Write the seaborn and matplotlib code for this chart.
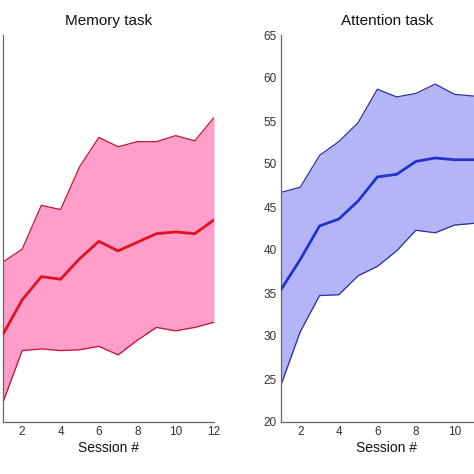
import matplotlib
matplotlib.use("Agg")
import matplotlib.pyplot as plt
import seaborn as sns
import pandas as pd
import numpy as np

sessions = [1, 2, 3, 4, 5, 6, 7, 8, 9, 10, 11, 12]

memory_mean = [30.2, 34.2, 36.9, 36.6, 39.0, 41.0, 39.9, 40.9, 41.9, 42.1, 41.9, 43.5]
memory_upper = [38.6, 40.1, 45.2, 44.7, 49.7, 53.1, 52.0, 52.6, 52.6, 53.3, 52.7, 55.4]
memory_lower = [22.3, 28.3, 28.5, 28.3, 28.4, 28.8, 27.8, 29.5, 31.0, 30.6, 31.0, 31.6]

attention_mean = [35.4, 38.9, 42.8, 43.6, 45.7, 48.5, 48.8, 50.3, 50.7, 50.5, 50.5, 50.5]
attention_upper = [46.7, 47.3, 51.0, 52.6, 54.8, 58.7, 57.8, 58.2, 59.3, 58.1, 57.9, 57.8]
attention_lower = [24.3, 30.5, 34.7, 34.8, 37.0, 38.1, 39.9, 42.3, 42.0, 42.9, 43.1, 43.2]

titles = ["Memory task", "Attention task"]
yticks = [20, 25, 30, 35, 40, 45, 50, 55, 60, 65]
xticks = [2, 4, 6, 8, 10, 12]
xticklabels_memory = ["2", "4", "6", "8", "10", "12"]
xticklabels_attention = ["2", "4", "6", "8", "10", ""]  # "12" lies beyond the cropped edge

sns.set_theme(style="white")
plt.rcParams['font.family'] = ['Liberation Sans', 'DejaVu Sans']

W = 474
fig = plt.figure(figsize=(4.74, 4.74), dpi=100)
ax1 = fig.add_axes([3 / W, 52 / W, 211 / W, 387 / W])
ax2 = fig.add_axes([281 / W, 52 / W, 212 / W, 387 / W])

specs = [
    (ax1, memory_mean, memory_upper, memory_lower, "#FF9ECB", "#C8102E", "#E3101E", False, xticklabels_memory),
    (ax2, attention_mean, attention_upper, attention_lower, "#B3B5F7", "#2B309E", "#2233CC", True, xticklabels_attention),
]

for (ax, mean, up, lo, fillc, edgec, meanc, showy, xtl), title in zip(specs, titles):
    df = pd.DataFrame({"session": sessions, "mean": mean, "upper": up, "lower": lo})
    ax.fill_between(df["session"], df["lower"], df["upper"], color=fillc, linewidth=0, zorder=1)
    sns.lineplot(data=df, x="session", y="upper", ax=ax, color=edgec, linewidth=0.9, zorder=2)
    sns.lineplot(data=df, x="session", y="lower", ax=ax, color=edgec, linewidth=0.9, zorder=2)
    sns.lineplot(data=df, x="session", y="mean", ax=ax, color=meanc, linewidth=2.0, zorder=3)
    ax.set_xlim(1, 12)
    ax.set_ylim(20, 65)
    ax.set_xticks(xticks)
    ax.set_xticklabels(xtl)
    ax.set_yticks(yticks)
    if not showy:
        ax.set_yticklabels([])
    ax.set_xlabel("Session #", fontsize=10, color="#111111", labelpad=2)
    ax.set_ylabel("")
    ax.set_title(title, fontsize=11, color="#111111", pad=7)
    for s in ["top", "right"]:
        ax.spines[s].set_visible(False)
    for s in ["left", "bottom"]:
        ax.spines[s].set_color("#666666")
        ax.spines[s].set_linewidth(0.9)
    ax.tick_params(direction="in", length=3, width=0.8, color="#888888",
                   labelsize=8.5, labelcolor="#333333", pad=3)
    ax.set_facecolor("white")

fig.savefig("out.png", dpi=100, facecolor="white")
